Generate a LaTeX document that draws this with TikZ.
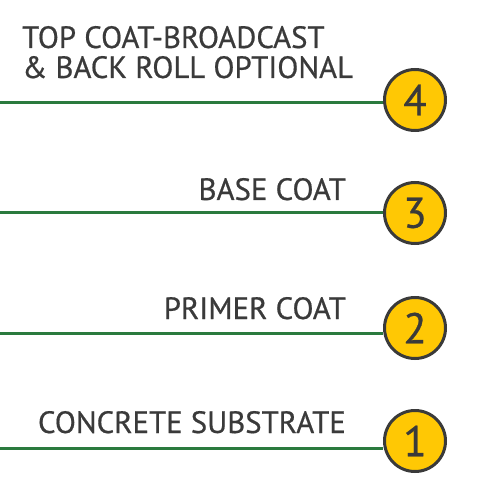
\documentclass[tikz,border=0pt]{standalone}
\usepackage{fontspec}
\setmainfont{PT Sans}[FakeBold=0.6]
\definecolor{lbl}{HTML}{3A3A3A}
\definecolor{lgreen}{HTML}{2A7A3E}
\definecolor{dotfill}{HTML}{FFC804}
\begin{document}
\begin{tikzpicture}[x=1pt,y=-1pt,
  lbltext/.style={text=lbl,font=\fontsize{30.8}{31}\selectfont,inner sep=0pt},
  numdot/.style={circle,draw=lbl,line width=3pt,fill=dotfill,minimum size=61pt,inner sep=0pt,
    text=lbl,font=\fontsize{43}{43}\selectfont},
  layerline/.style={draw=lgreen,line width=3pt}]
\useasboundingbox (0,0) rectangle (500,494);
% circles
\node[numdot] (c4) at (415,100) {4};
\node[numdot] (c3) at (415,213) {3};
\node[numdot] (c2) at (415,328) {2};
\node[numdot] (c1) at (415,441) {1};
% line start coordinates
\coordinate (s4) at (0,103);
\coordinate (s3) at (0,213);
\coordinate (s2) at (0,333);
\coordinate (s1) at (0,448);
\path[layerline] (s4) -- (s4 -| c4.west);
\path[layerline] (s3) -- (s3 -| c3.west);
\path[layerline] (s2) -- (s2 -| c2.west);
\path[layerline] (s1) -- (s1 -| c1.west);
% labels
\node[lbltext,anchor=base west] (t4a) at (22,48) {TOP COAT-BROADCAST};
\node[lbltext,anchor=base west] (t4b) at (22,78) {\& BACK ROLL OPTIONAL};
\node[lbltext,anchor=base east] (t3) at (346,200) {BASE COAT};
\node[lbltext,anchor=base east] (t2) at (346,319) {PRIMER COAT};
\node[lbltext,anchor=base east] (t1) at (346,433) {CONCRETE SUBSTRATE};
\end{tikzpicture}
\end{document}
